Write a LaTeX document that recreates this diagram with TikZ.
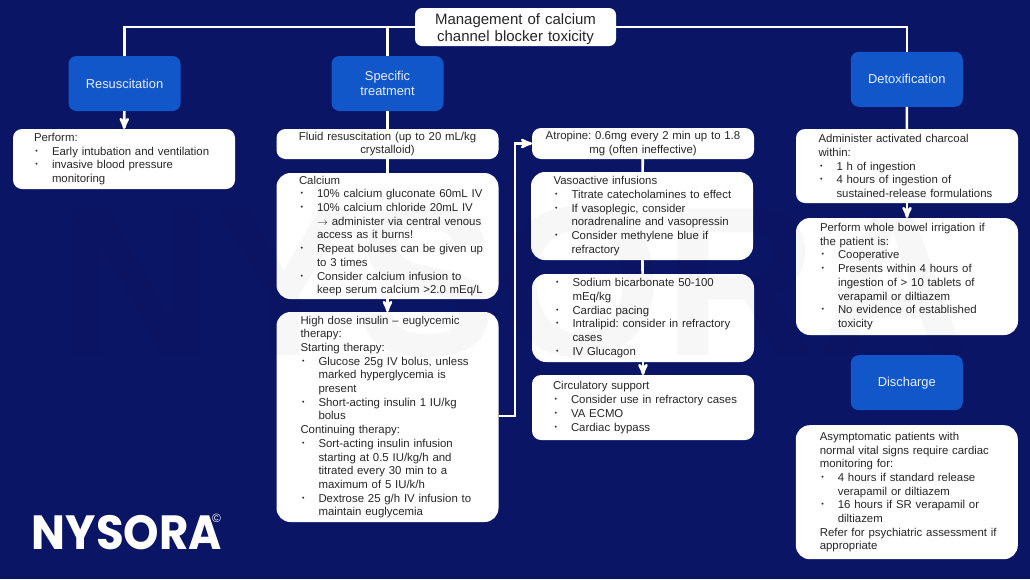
\documentclass[tikz,border=0pt]{standalone}
\usepackage{fontspec}
\setmainfont{Liberation Sans}
\newfontfamily\logofont{Poppins}
\usepackage{xcolor}
\usetikzlibrary{arrows, positioning, calc}
\definecolor{navy}{HTML}{0B1566}
\definecolor{boxblue}{HTML}{1257C9}
\definecolor{bluetext}{HTML}{E6EEFF}
\frenchspacing
% one line of a box, with or without its bullet
\newcommand{\pl}[1]{\makebox[170pt][l]{#1}}
\newcommand{\bl}[1]{\makebox[170pt][l]{\makebox[18pt][l]{\hspace{1.5pt}\raisebox{2pt}{\scalebox{.62}{\textbullet}}}#1}}
\newcommand{\ct}[1]{\makebox[170pt][l]{\hspace*{18pt}#1}}

\begin{document}
\begin{tikzpicture}[x=1pt,y=-1pt,>=stealth',thick,node distance=14pt,
		link/.style={draw=white,line width=2.6pt},
		head box/.style={rectangle,rounded corners=8pt,fill=boxblue,text=bluetext,outer sep=0pt,inner sep=0pt,
			minimum width=112pt,minimum height=55pt,align=center,font=\fontsize{12.9}{15.5}\selectfont},
		text box/.style={rectangle,rounded corners=9pt,fill=white,text=black!85,outer sep=0pt,inner ysep=0pt,inner xsep=21pt,
			minimum width=222pt,text width=180pt,align=left,font=\fontsize{11.4}{13.7}\selectfont},
		round box/.style={text box,rounded corners=14pt,inner xsep=22.5pt,text width=177pt},
		far box/.style={round box,inner xsep=24pt,text width=174pt},
		mid box/.style={text box,align=center,inner xsep=6pt,text width=210pt}]
	
	\fill[navy] (0,0) rectangle (1030,579);
	\useasboundingbox (0,0) rectangle (1030,579);
	
	\node[text box,align=center,inner xsep=4pt,text width=193pt,minimum width=201pt,minimum height=38pt,rounded corners=7pt,
		font=\fontsize{15}{17.5}\selectfont] (title) at (515.5,27) {\rule{0pt}{15pt}Management of calcium\\channel blocker toxicity};
	
	\node[head box] (resus) at (124.5,83.5) {Resuscitation};
	\node[head box] (specific) at (387.5,83.5) {Specific\\treatment};
	\node[head box] (detox) at (906.8,79.3) {Detoxification};
	\node[head box] (discharge) at (906.8,382.7) {Discharge};
	
	\node[text box,minimum height=60pt] (perform) at (124,159) {\pl{Perform:}\\
		\bl{Early intubation and ventilation}\\
		\bl{invasive blood pressure}\\
		\ct{monitoring}};
	
	\node[mid box,minimum height=30pt] (fluid) [below=18pt of specific] {Fluid resuscitation (up to 20 mL/kg\\crystalloid)};
	\node[round box,minimum height=126pt] (calcium) [below=14pt of fluid] {\pl{Calcium}\\
		\bl{10\% calcium gluconate 60mL IV}\\
		\bl{10\% calcium chloride 20mL IV}\\
		\ct{$\rightarrow$ administer via central venous}\\
		\ct{access as it burns!}\\
		\bl{Repeat boluses can be given up}\\
		\ct{to 3 times}\\
		\bl{Consider calcium infusion to}\\
		\ct{keep serum calcium >2.0 mEq/L}};
	\node[far box,minimum height=210pt] (insulin) [below=13pt of calcium] {\pl{High dose insulin -- euglycemic}\\
		\pl{therapy:}\\
		\pl{Starting therapy:}\\
		\bl{Glucose 25g IV bolus, unless}\\
		\ct{marked hyperglycemia is}\\
		\ct{present}\\
		\bl{Short-acting insulin 1 IU/kg}\\
		\ct{bolus}\\
		\pl{Continuing therapy:}\\
		\bl{Sort-acting insulin infusion}\\
		\ct{starting at 0.5 IU/kg/h and}\\
		\ct{titrated every 30 min to a}\\
		\ct{maximum of 5 IU/k/h}\\
		\bl{Dextrose 25 g/h IV infusion to}\\
		\ct{maintain euglycemia}};
	
	\node[mid box,minimum height=31pt] (atropine) at (643,143.5) {Atropine: 0.6mg every 2 min up to 1.8\\mg (often ineffective)};
	\node[round box,minimum height=88pt] (vaso) [below=13pt of atropine,xshift=-1pt] {\pl{Vasoactive infusions}\\
		\bl{Titrate catecholamines to effect}\\
		\bl{If vasoplegic, consider}\\
		\ct{noradrenaline and vasopressin}\\
		\bl{Consider methylene blue if}\\
		\ct{refractory}};
	\node[round box,minimum height=88pt] (sodium) [below=14pt of vaso,xshift=1pt] {\bl{Sodium bicarbonate 50-100}\\
		\ct{mEq/kg}\\
		\bl{Cardiac pacing}\\
		\bl{Intralipid: consider in refractory}\\
		\ct{cases}\\
		\bl{IV Glucagon}};
	\node[text box,minimum height=65pt] (circ) [below=13pt of sodium] {\pl{Circulatory support}\\
		\bl{Consider use in refractory cases}\\
		\bl{VA ECMO}\\
		\bl{Cardiac bypass}};
	
	\node[round box,rounded corners=9pt,minimum height=74pt] (charcoal) at (907,166) {\pl{Administer activated charcoal}\\
		\pl{within:}\\
		\bl{1 h of ingestion}\\
		\bl{4 hours of ingestion of}\\
		\ct{sustained-release formulations}};
	\node[far box,minimum height=117pt] (bowel) [below=15pt of charcoal] {\pl{Perform whole bowel irrigation if}\\
		\pl{the patient is:}\\
		\bl{Cooperative}\\
		\bl{Presents within 4 hours of}\\
		\ct{ingestion of > 10 tablets of}\\
		\ct{verapamil or diltiazem}\\
		\bl{No evidence of established}\\
		\ct{toxicity}};
	\node[far box,minimum height=134pt] (asym) [below=15pt of discharge] {\pl{Asymptomatic patients with}\\
		\pl{normal vital signs require cardiac}\\
		\pl{monitoring for:}\\
		\bl{4 hours if standard release}\\
		\ct{verapamil or diltiazem}\\
		\bl{16 hours if SR verapamil or}\\
		\ct{diltiazem}\\
		\pl{Refer for psychiatric assessment if}\\
		\pl{appropriate}};
	
	\draw[link] (title.west) -| (resus.north);
	\draw[link] (title.west) -| (specific.north);
	\draw[link] (title.east) -| (detox.north);
	\draw[link] (specific) -- (fluid);
	\draw[link] (fluid) -- (calcium);
	\draw[link] (atropine) -- (vaso);
	\draw[link] (vaso) -- (sodium);
	\draw[link] (detox) -- (charcoal);
	\draw[link,->] (resus) -- (perform);
	\draw[link,->] (calcium) -- (insulin);
	\draw[link,->] (sodium) -- (circ);
	\draw[link,->] (charcoal) -- (bowel);
	\coordinate (elbow) at (515,416);
	\draw[link,->] (insulin.east |- elbow) -- (elbow) |- (atropine.west);
	
	\node[font=\fontsize{48}{48}\logofont\bfseries,text=white,inner sep=0pt,xscale=.94] (logo) at (127,532.5) {NYSORA};
	\node[font=\fontsize{12}{12}\selectfont,text=white,inner sep=0pt] (copyright) at (216.5,518.5) {©};
	
	% faint letters lying over everything
	\node[font=\fontsize{213}{213}\selectfont\bfseries,text=black,text opacity=.03,inner sep=0pt] (mark) at (515,282) {NYSORA};
	
\end{tikzpicture}
\end{document}
